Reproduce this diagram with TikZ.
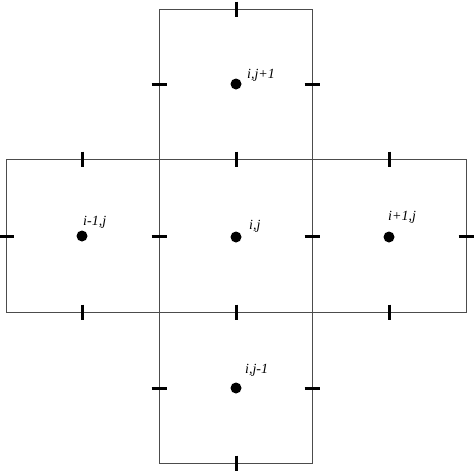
\documentclass[tikz,border=0pt]{standalone}
\usepackage{fontspec}
\setmainfont{Liberation Serif}
\begin{document}
\begin{tikzpicture}[x=1pt,y=-1pt,
  cellline/.style={draw=black!70, line width=0.8pt},
  facemark/.style={draw=black, line width=3pt},
  dotnode/.style={circle, fill=black, inner sep=0pt, minimum size=11pt},
  lbl/.style={font=\itshape\fontsize{14}{16}\selectfont, inner sep=0pt, anchor=base west}]
\useasboundingbox (0,0) rectangle (474,474);
% cells
\draw[cellline] (159,9) rectangle (312,463);
\draw[cellline] (6,159) rectangle (466,312);
% face marks: vertical ticks on horizontal edges
\foreach \x/\y in {236/9, 236/159, 236/312, 236/463, 82/159, 82/312, 389/159, 389/312}
  \draw[facemark] (\x,\y-7.5) -- (\x,\y+7.5);
% face marks: horizontal ticks on vertical edges
\foreach \x/\y in {6/236, 159/236, 312/236, 466/236, 159/84, 312/84, 159/388, 312/388}
  \draw[facemark] (\x-7.5,\y) -- (\x+7.5,\y);
% cell centres
\node[dotnode] (ctop) at (236,84) {};
\node[dotnode] (cmid) at (236,237) {};
\node[dotnode] (cleft) at (82,236) {};
\node[dotnode] (cright) at (389,237) {};
\node[dotnode] (cbot) at (236,388) {};
% labels
\node[lbl] (ltop) at (247,78) {i,j+1};
\node[lbl] (lmid) at (249,229) {i,j};
\node[lbl] (lleft) at (83,225) {i-1,j};
\node[lbl] (lright) at (388,220) {i+1,j};
\node[lbl] (lbot) at (245,373) {i,j-1};
\end{tikzpicture}
\end{document}
